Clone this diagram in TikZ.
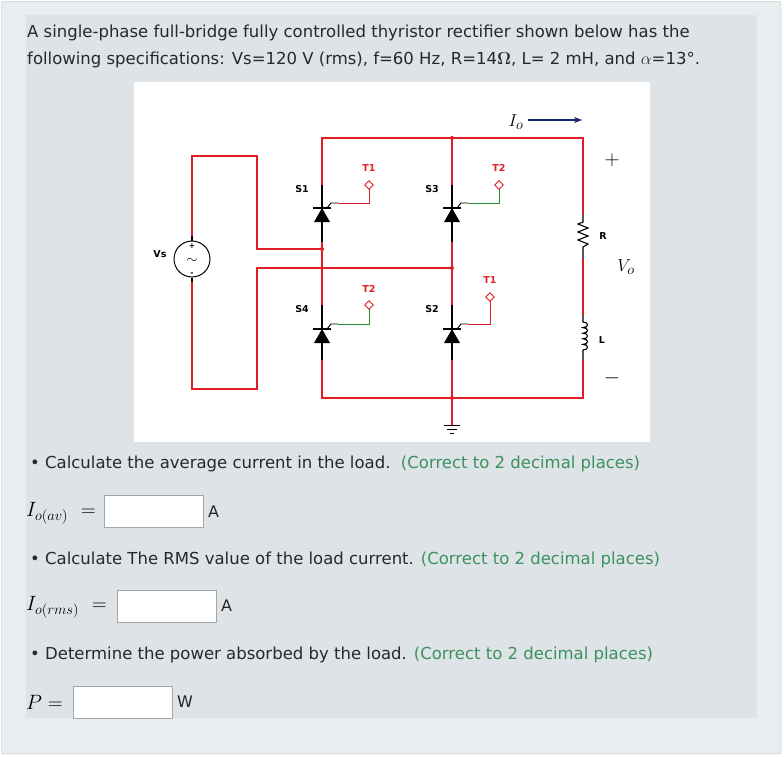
\documentclass[tikz,border=0pt]{standalone}
\usepackage{fontspec}
\setmainfont{DejaVu Sans}
\usepackage{amsmath}
\usetikzlibrary{arrows.meta,shapes.geometric}
\definecolor{wire}{RGB}{225,30,35}
\definecolor{gatg}{RGB}{40,140,40}
\definecolor{grn}{RGB}{60,145,95}
\definecolor{navy}{RGB}{20,40,110}
\definecolor{outerbg}{RGB}{234,237,239}
\definecolor{innerbg}{RGB}{221,227,230}
\definecolor{txtc}{RGB}{40,40,40}
\tikzset{
 w/.style={draw=wire,line width=1.1pt},
 lead/.style={draw=black,line width=1.1pt},
 lbl/.style={font=\fontsize{9.5}{10}\selectfont\bfseries},
 tl/.style={font=\fontsize{9.5}{10}\selectfont\bfseries,text=wire},
 txt/.style={anchor=west,font=\fontsize{16.5}{18}\selectfont,inner sep=0pt,text=txtc},
 mth/.style={anchor=west,inner sep=0pt,font=\fontsize{20}{20}\selectfont},
 unit/.style={anchor=west,inner sep=0pt,font=\fontsize{16}{16}\selectfont,text=txtc},
 ibox/.style={draw=gray!70,fill=white,minimum width=99pt,minimum height=32pt,anchor=north west,inner sep=0pt},
 dot/.style={circle,fill=wire,inner sep=0pt,minimum size=4pt},
 gdia/.style={draw=wire,line width=0.9pt,fill=white,diamond,inner sep=0pt,minimum size=1pt}
}
\begin{document}
\begin{tikzpicture}[x=1pt,y=-1pt]
\useasboundingbox (0,0) rectangle (784,757);
\fill[white] (0,0) rectangle (784,757);
\draw[gray!60,fill=outerbg,rounded corners=2pt] (1.5,1.5) rectangle (781,754);
\fill[innerbg] (26,15) rectangle (757,718);
\node[txt] (t1) at (27,33) {A single-phase full-bridge fully controlled thyristor rectifier shown below has the};
\node[txt] (t2) at (27,60) {following specifications: Vs=120 V (rms), f=60 Hz, R=14\textbf{$\boldsymbol{\Omega}$}, L= 2 mH, and $\alpha$=13°.};
\fill[white] (134,82) rectangle (650,442);
% coordinates
\coordinate (TL) at (322,138); \coordinate (TM) at (452,138); \coordinate (TR) at (583,138);
\coordinate (BL) at (322,398); \coordinate (BM) at (452,398); \coordinate (BR) at (583,398);
\coordinate (ML) at (322,249); \coordinate (MR) at (452,268);
\node[circle,draw,line width=1pt,minimum size=36pt,inner sep=0pt] (vs) at (192,259) {};
\node[inner sep=0pt] (sim) at (192,261) {\fontsize{15}{15}\selectfont$\sim$};
\node[inner sep=0pt,font=\fontsize{7.5}{8}\selectfont\bfseries] (vp) at (192,246) {+};
\node[inner sep=0pt,font=\fontsize{7.5}{8}\selectfont\bfseries] (vm) at (192,274) {-};
\node[lbl] (vsl) at (160,254) {Vs};
\draw[lead] (vs.north) -- (192,236);
\draw[lead] (vs.south) -- (192,282);
\draw[w] (192,236) -- (192,156) -- (257,156) -- (257,249) -- (ML);
\draw[w] (192,282) -- (192,389) -- (257,389) -- (257,268) -- (MR);
\draw[w] (322,185) -- (TL) -- (TR) -- (583,214);
\draw[w] (TM) -- (452,185);
\draw[w] (322,242) -- (322,305);
\draw[w] (452,242) -- (452,305);
\draw[w] (322,360) -- (BL) -- (BR) -- (583,360);
\draw[w] (BM) -- (452,360);
\draw[w] (583,259) -- (583,315);
\draw[w] (BM) -- (452,425);
\foreach \n in {TM,ML,MR,BM} \node[dot] at (\n) {};
% thyristors
\foreach \x/\yb/\yt/\yc/\gx/\dy/\gc/\tn/\tly/\sn in {
 322/208/185/242/369/185/wire/T1/168/S1,
 452/208/185/242/499/185/gatg/T2/168/S3,
 322/329/305/360/369/305/gatg/T2/289/S4,
 452/329/305/360/490/297/wire/T1/280/S2}{
 \draw[lead] (\x,\yt) -- (\x,\yc);
 \fill (\x,\yb) -- (\x-8,\yb+14) -- (\x+8,\yb+14) -- cycle;
 \draw[lead] (\x-9,\yb) -- (\x+9,\yb);
 \draw[line width=0.9pt] (\x+5,\yb) -- (\x+9,\yb-5) -- (\x+16,\yb-5);
 \draw[draw=\gc,line width=0.9pt] (\x+16,\yb-5) -- (\gx,\yb-5) -- (\gx,\dy+4);
 \node[gdia,minimum size=9pt] at (\gx,\dy) {};
 \node[tl] at (\gx,\tly) {\tn};
 \node[lbl] at (\x-20,\yt+4) {\sn};
}
% resistor
\draw[lead] (583,214) -- (583,222) -- (578,224) -- (588,228) -- (578,232) -- (588,236) -- (578,240) -- (588,244) -- (583,247) -- (583,259);
\node[lbl] at (603,236) {R};
% inductor
\draw[lead] (583,315) -- (583,322) \foreach \i in {0,1,2,3,4} { .. controls +(6,0) and +(6,0) .. ++(0,5.6) } -- (583,360);
\node[lbl] at (602,340) {L};
\node[font=\fontsize{20}{20}\selectfont] at (612,160) {$+$};
\node[font=\fontsize{20}{20}\selectfont] at (612,378) {$-$};
\node[font=\fontsize{19}{19}\selectfont] at (626,267) {$V_o$};
\node[font=\fontsize{19}{19}\selectfont] (io) at (516,122) {$I_o$};
\draw[navy,line width=1.6pt,-{Stealth[length=8pt,width=6pt]}] (528,120) -- (582,120);
% ground
\draw[line width=0.9pt] (444,425) -- (460,425) (447,429) -- (457,429) (450,433) -- (454,433);
% questions
\node[txt] at (30,464) {\textbullet\ Calculate the average current in the load.\ \ \textcolor{grn}{(Correct to 2 decimal places)}};
\node[mth] at (26,513) {$I_{o(av)}\,\,=$};
\node[ibox] (b1) at (104,495) {};
\node[unit] at (208,512) {A};
\node[txt] at (30,560) {\textbullet\ Calculate The RMS value of the load current. \textcolor{grn}{(Correct to 2 decimal places)}};
\node[mth] at (26,607) {$I_{o(rms)}\,\,=$};
\node[ibox] (b2) at (117,590) {};
\node[unit] at (221,606) {A};
\node[txt] at (30,655) {\textbullet\ Determine the power absorbed by the load. \textcolor{grn}{(Correct to 2 decimal places)}};
\node[mth] at (26,702) {$P=$};
\node[ibox] (b3) at (73,686) {};
\node[unit] at (177,702) {W};
\end{tikzpicture}
\end{document}
